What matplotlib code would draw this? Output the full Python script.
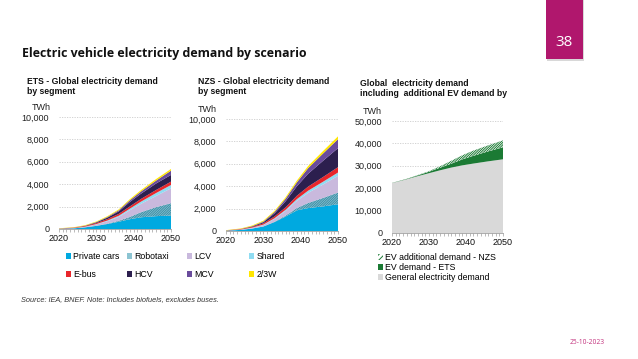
import matplotlib.pyplot as plt
from matplotlib.patches import Rectangle, Patch

plt.rcParams['font.family'] = ['Liberation Sans', 'DejaVu Sans']
plt.rcParams['hatch.linewidth'] = 0.7

W, H = 638, 359

years = [2020, 2024, 2027, 2030, 2033, 2036, 2039, 2042, 2046, 2050]
segments = ["Private cars", "Robotaxi", "LCV", "Shared", "E-bus", "HCV", "MCV", "2/3W"]
seg_colors = ["#00a9e0", "#8cc4d2", "#c9b9dd", "#8fdcf2", "#e8262b", "#2c1f4e", "#6a4c9c", "#ffe600"]

# ETS scenario, TWh by segment
ets_private = [20, 60, 150, 280, 450, 650, 880, 1050, 1150, 1200]
ets_robotaxi = [0, 0, 0, 10, 30, 80, 200, 450, 800, 1100]
ets_lcv = [5, 20, 50, 120, 220, 350, 600, 750, 1000, 1330]
ets_shared = [0, 5, 10, 30, 60, 100, 140, 200, 260, 300]
ets_ebus = [20, 40, 60, 90, 130, 170, 200, 240, 270, 300]
ets_hcv = [0, 5, 20, 60, 130, 220, 400, 470, 580, 600]
ets_mcv = [0, 3, 10, 30, 60, 100, 150, 200, 260, 380]
ets_23w = [20, 30, 40, 50, 70, 80, 100, 120, 140, 150]

# NZS scenario, TWh by segment
nzs_private = [30, 100, 220, 400, 800, 1300, 1850, 2050, 2200, 2390]
nzs_robotaxi = [0, 0, 0, 10, 30, 80, 200, 450, 750, 1040]
nzs_lcv = [5, 30, 70, 130, 250, 420, 650, 900, 1200, 1500]
nzs_shared = [0, 5, 10, 30, 60, 100, 150, 200, 250, 290]
nzs_ebus = [20, 40, 70, 110, 160, 220, 300, 360, 420, 480]
nzs_hcv = [0, 10, 40, 100, 270, 550, 850, 1150, 1450, 1700]
nzs_mcv = [0, 5, 20, 60, 130, 230, 350, 500, 650, 800]
nzs_23w = [20, 40, 60, 80, 100, 130, 160, 190, 220, 250]

# general electricity demand, TWh
general_demand = [22300, 24000, 25400, 26700, 28000, 29200, 30200, 31000, 32000, 32900]

ets = [ets_private, ets_robotaxi, ets_lcv, ets_shared, ets_ebus, ets_hcv, ets_mcv, ets_23w]
nzs = [nzs_private, nzs_robotaxi, nzs_lcv, nzs_shared, nzs_ebus, nzs_hcv, nzs_mcv, nzs_23w]
ets_total = [sum(v) for v in zip(*ets)]
nzs_extra = [sum(v) - e for v, e in zip(zip(*nzs), ets_total)]

green = "#1b7a34"
grey = "#d9d9d9"
fine_hatch = "/" * 14

fig = plt.figure(figsize=(W / 100, H / 100), dpi=100)


def px_axes(x0, y_top, x1, y_bot):
    return fig.add_axes([x0 / W, 1 - y_bot / H, (x1 - x0) / W, (y_bot - y_top) / H])


def style(ax, ymax, step):
    ax.set_xlim(2020, 2050)
    ax.set_ylim(0, ymax)
    ax.set_yticks(range(0, ymax + 1, step))
    ax.set_yticklabels([f"{v:,}" for v in range(0, ymax + 1, step)])
    ax.set_xticks([2020, 2030, 2040, 2050])
    ax.set_xticks(range(2020, 2051), minor=True)
    for s in ["top", "right", "left"]:
        ax.spines[s].set_visible(False)
    ax.spines["bottom"].set_color("#a0a0a0")
    ax.spines["bottom"].set_linewidth(0.6)
    ax.tick_params(axis="y", length=0, labelsize=6.5, pad=7, colors="#222222")
    ax.tick_params(axis="x", which="both", length=2, width=0.5, color="#a0a0a0",
                   labelsize=6.5, pad=1.5, labelcolor="#111111")
    ax.grid(axis="y", color="#cccccc", linestyle=(0, (1.5, 1.5)), linewidth=0.6)
    ax.set_axisbelow(True)


def panel_title(x, y, text):
    fig.text(x / W, 1 - y / H, text, fontsize=6.2, fontweight="bold", va="top",
             ha="left", linespacing=1.15, color="#111111")


ax1 = px_axes(59, 117, 171, 229)
polys = ax1.stackplot(years, ets, colors=seg_colors, linewidth=0)
polys[1].set_hatch(fine_hatch)
polys[1].set_edgecolor("#3d8ea6")
style(ax1, 10000, 2000)
panel_title(27, 77, "ETS - Global electricity demand\nby segment")
fig.text(32 / W, 1 - 108 / H, "TWh", fontsize=6.5, va="center", color="#222222")

ax2 = px_axes(226, 119, 338, 231)
polys = ax2.stackplot(years, nzs, colors=seg_colors, linewidth=0)
polys[1].set_hatch(fine_hatch)
polys[1].set_edgecolor("#3d8ea6")
style(ax2, 10000, 2000)
panel_title(198, 77, "NZS - Global electricity demand\nby segment")
fig.text(198 / W, 1 - 110 / H, "TWh", fontsize=6.5, va="center", color="#222222")

ax3 = px_axes(392, 121, 503, 233)
polys = ax3.stackplot(years, [general_demand, ets_total, nzs_extra],
                      colors=[grey, green, "white"], linewidth=0)
polys[2].set_hatch(fine_hatch)
polys[2].set_edgecolor(green)
style(ax3, 50000, 10000)
panel_title(360, 79, "Global  electricity demand\nincluding  additional EV demand by")
fig.text(363 / W, 1 - 112 / H, "TWh", fontsize=6.5, va="center", color="#222222")

# segment legend, one column at a time
col_x = [66, 127, 187, 249]
for i, x in enumerate(col_x):
    hs = [Patch(facecolor=seg_colors[j], edgecolor="none") for j in (i, i + 4)]
    fig.legend(hs, [segments[i], segments[i + 4]], loc="upper left",
               bbox_to_anchor=(x / W, 1 - 252 / H), frameon=False, fontsize=6.3,
               handlelength=0.55, handleheight=0.55, handletextpad=0.3,
               labelspacing=1.05, borderpad=0, borderaxespad=0)

scen_handles = [Patch(facecolor="white", edgecolor=green, hatch="//////", linewidth=0),
                Patch(facecolor=green, edgecolor="none"),
                Patch(facecolor=grey, edgecolor="none")]
fig.legend(scen_handles, ["EV additional demand - NZS", "EV demand - ETS", "General electricity demand"],
           loc="upper left", bbox_to_anchor=(378 / W, 1 - 253 / H), frameon=False,
           fontsize=6.3, handlelength=0.55, handleheight=0.55, handletextpad=0.3,
           labelspacing=0.12, borderpad=0, borderaxespad=0)

fig.text(22 / W, 1 - 53 / H, "Electric vehicle electricity demand by scenario",
         fontsize=8.9, fontweight="bold", family="Open Sans", va="center", color="#111111")
fig.text(21 / W, 1 - 300 / H, "Source: IEA, BNEF. Note: Includes biofuels, excludes buses.",
         fontsize=5.3, style="italic", va="center", color="#333333")

# page number tab
fig.patches.append(Rectangle((547 / W, 1 - 61 / H), 37 / W, 61 / H, transform=fig.transFigure,
                             facecolor="#d8d8d8", edgecolor="none"))
fig.patches.append(Rectangle((546 / W, 1 - 59 / H), 37 / W, 59 / H, transform=fig.transFigure,
                             facecolor="#b0176d", edgecolor="none"))
fig.text(564.5 / W, 1 - 42 / H, "38", fontsize=11, color="white", ha="center", va="center",
         family="Open Sans")
fig.text(587 / W, 1 - 343 / H, "25-10-2023", fontsize=4.8, color="#c2307c", ha="center",
         va="center", family="Open Sans")

fig.savefig("out.png", dpi=100)
